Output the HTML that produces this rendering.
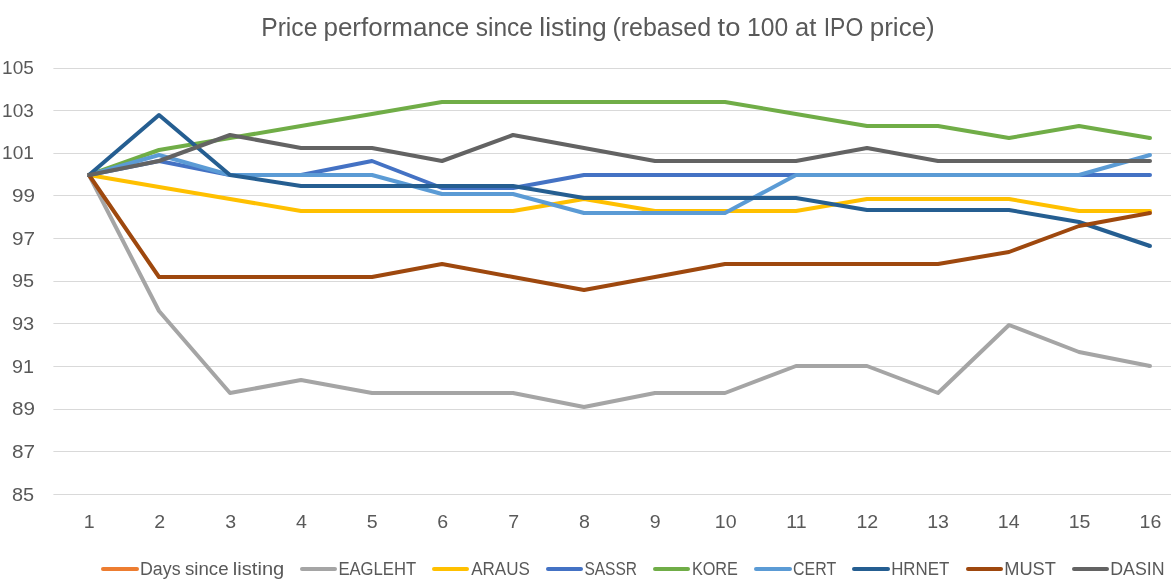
<!DOCTYPE html>
<html><head><meta charset="utf-8"><title>Price performance since listing</title>
<style>
html,body{margin:0;padding:0;background:#fff;}
body{width:1171px;height:588px;overflow:hidden;font-family:"Liberation Sans",sans-serif;}
svg{display:block;will-change:transform;}
text{font-family:"Liberation Sans",sans-serif;fill:#595959;}
</style></head><body>
<svg width="1171" height="588" viewBox="0 0 1171 588">
<rect x="0" y="0" width="1171" height="588" fill="#ffffff"/>
<g fill="#D9D9D9">
<rect x="53.4" y="68" width="1122.6" height="1"/>
<rect x="53.4" y="110" width="1122.6" height="1"/>
<rect x="53.4" y="153" width="1122.6" height="1"/>
<rect x="53.4" y="195" width="1122.6" height="1"/>
<rect x="53.4" y="238" width="1122.6" height="1"/>
<rect x="53.4" y="281" width="1122.6" height="1"/>
<rect x="53.4" y="323" width="1122.6" height="1"/>
<rect x="53.4" y="366" width="1122.6" height="1"/>
<rect x="53.4" y="409" width="1122.6" height="1"/>
<rect x="53.4" y="451" width="1122.6" height="1"/>
<rect x="53.4" y="494" width="1122.6" height="1"/>
</g>
<g font-size="25.4">
<text x="261.19" y="35.8" textLength="56.19" lengthAdjust="spacingAndGlyphs">Price</text>
<text x="323.44" y="35.8" textLength="145.86" lengthAdjust="spacingAndGlyphs">performance</text>
<text x="475.78" y="35.8" textLength="57.24" lengthAdjust="spacingAndGlyphs">since</text>
<text x="539.28" y="35.8" textLength="67.56" lengthAdjust="spacingAndGlyphs">listing</text>
<text x="612.40" y="35.8" textLength="98.67" lengthAdjust="spacingAndGlyphs">(rebased</text>
<text x="717.60" y="35.8" textLength="22.85" lengthAdjust="spacingAndGlyphs">to</text>
<text x="746.98" y="35.8" textLength="41.19" lengthAdjust="spacingAndGlyphs">100</text>
<text x="794.97" y="35.8" textLength="21.32" lengthAdjust="spacingAndGlyphs">at</text>
<text x="823.76" y="35.8" textLength="39.47" lengthAdjust="spacingAndGlyphs">IPO</text>
<text x="869.74" y="35.8" textLength="65.03" lengthAdjust="spacingAndGlyphs">price)</text>
</g>
<g font-size="19.0">
<text x="2.07" y="74" textLength="31.74" lengthAdjust="spacingAndGlyphs">105</text>
<text x="2.07" y="117" textLength="31.74" lengthAdjust="spacingAndGlyphs">103</text>
<text x="2.06" y="159" textLength="31.88" lengthAdjust="spacingAndGlyphs">101</text>
<text x="11.91" y="202" textLength="22.99" lengthAdjust="spacingAndGlyphs">99</text>
<text x="11.90" y="245" textLength="23.14" lengthAdjust="spacingAndGlyphs">97</text>
<text x="11.94" y="287" textLength="22.16" lengthAdjust="spacingAndGlyphs">95</text>
<text x="11.94" y="330" textLength="22.30" lengthAdjust="spacingAndGlyphs">93</text>
<text x="11.95" y="373" textLength="21.98" lengthAdjust="spacingAndGlyphs">91</text>
<text x="11.91" y="415" textLength="22.99" lengthAdjust="spacingAndGlyphs">89</text>
<text x="11.90" y="458" textLength="23.14" lengthAdjust="spacingAndGlyphs">87</text>
<text x="11.94" y="501" textLength="22.16" lengthAdjust="spacingAndGlyphs">85</text>
<text x="83.87" y="528.0" textLength="10.90" lengthAdjust="spacingAndGlyphs">1</text>
<text x="154.31" y="528.0" textLength="10.90" lengthAdjust="spacingAndGlyphs">2</text>
<text x="225.15" y="528.0" textLength="10.90" lengthAdjust="spacingAndGlyphs">3</text>
<text x="296.00" y="528.0" textLength="10.90" lengthAdjust="spacingAndGlyphs">4</text>
<text x="366.71" y="528.0" textLength="10.90" lengthAdjust="spacingAndGlyphs">5</text>
<text x="437.36" y="528.0" textLength="10.90" lengthAdjust="spacingAndGlyphs">6</text>
<text x="508.21" y="528.0" textLength="10.90" lengthAdjust="spacingAndGlyphs">7</text>
<text x="578.99" y="528.0" textLength="10.90" lengthAdjust="spacingAndGlyphs">8</text>
<text x="649.83" y="528.0" textLength="10.90" lengthAdjust="spacingAndGlyphs">9</text>
<text x="714.75" y="528.0" textLength="21.77" lengthAdjust="spacingAndGlyphs">10</text>
<text x="786.37" y="528.0" textLength="20.33" lengthAdjust="spacingAndGlyphs">11</text>
<text x="856.44" y="528.0" textLength="21.77" lengthAdjust="spacingAndGlyphs">12</text>
<text x="927.16" y="528.0" textLength="21.77" lengthAdjust="spacingAndGlyphs">13</text>
<text x="997.75" y="528.0" textLength="21.77" lengthAdjust="spacingAndGlyphs">14</text>
<text x="1068.65" y="528.0" textLength="21.77" lengthAdjust="spacingAndGlyphs">15</text>
<text x="1139.50" y="528.0" textLength="21.77" lengthAdjust="spacingAndGlyphs">16</text>
</g>
<g fill="none" stroke-width="4.0" stroke-linecap="butt" stroke-linejoin="round">
<polyline stroke="#A5A5A5" points="89,175 159,311 230,393 301,380 372,393 442,393 513,393 584,407 655,393 725,393 796,366 867,366 938,393 1009,325 1079,352 1150,366"/>
<circle cx="1150" cy="366" r="2.00" fill="#A5A5A5" stroke="none"/>
<polyline stroke="#FFC000" points="89,175 159,187 230,199 301,211 372,211 442,211 513,211 584,199 655,211 725,211 796,211 867,199 938,199 1009,199 1079,211 1150,211"/>
<circle cx="1150" cy="211" r="2.00" fill="#FFC000" stroke="none"/>
<polyline stroke="#4472C4" points="89,175 159,161 230,175 301,175 372,161 442,188 513,188 584,175 655,175 725,175 796,175 867,175 938,175 1009,175 1079,175 1150,175"/>
<circle cx="1150" cy="175" r="2.00" fill="#4472C4" stroke="none"/>
<polyline stroke="#70AD47" points="89,175 159,150 230,138 301,126 372,114 442,102 513,102 584,102 655,102 725,102 796,114 867,126 938,126 1009,138 1079,126 1150,138"/>
<circle cx="1150" cy="138" r="2.00" fill="#70AD47" stroke="none"/>
<polyline stroke="#5B9BD5" points="89,175 159,155 230,175 301,175 372,175 442,194 513,194 584,213 655,213 725,213 796,175 867,175 938,175 1009,175 1079,175 1150,155"/>
<circle cx="1150" cy="155" r="2.00" fill="#5B9BD5" stroke="none"/>
<polyline stroke="#255E91" points="89,175 159,115 230,175 301,186 372,186 442,186 513,186 584,198 655,198 725,198 796,198 867,210 938,210 1009,210 1079,222 1150,246"/>
<circle cx="1150" cy="246" r="2.00" fill="#255E91" stroke="none"/>
<polyline stroke="#9E480E" points="89,175 159,277 230,277 301,277 372,277 442,264 513,277 584,290 655,277 725,264 796,264 867,264 938,264 1009,252 1079,226 1150,213"/>
<circle cx="1150" cy="213" r="2.00" fill="#9E480E" stroke="none"/>
<polyline stroke="#636363" points="89,175 159,161 230,135 301,148 372,148 442,161 513,135 584,148 655,161 725,161 796,161 867,148 938,161 1009,161 1079,161 1150,161"/>
<circle cx="1150" cy="161" r="2.00" fill="#636363" stroke="none"/>
</g>
<rect x="87.1" y="173.00" width="2.4" height="4.0" fill="#636363"/>
<g stroke-width="4.0" stroke-linecap="round">
<line x1="103.00" x2="137.00" y1="569" y2="569" stroke="#ED7D31"/>
<line x1="302.00" x2="335.00" y1="569" y2="569" stroke="#A5A5A5"/>
<line x1="434.00" x2="467.00" y1="569" y2="569" stroke="#FFC000"/>
<line x1="548.00" x2="581.00" y1="569" y2="569" stroke="#4472C4"/>
<line x1="655.00" x2="688.00" y1="569" y2="569" stroke="#70AD47"/>
<line x1="756.00" x2="790.00" y1="569" y2="569" stroke="#5B9BD5"/>
<line x1="854.00" x2="888.00" y1="569" y2="569" stroke="#255E91"/>
<line x1="968.00" x2="1001.00" y1="569" y2="569" stroke="#9E480E"/>
<line x1="1074.00" x2="1107.00" y1="569" y2="569" stroke="#636363"/>
</g>
<g font-size="18.8">
<text x="140.04" y="574.9" textLength="40.50" lengthAdjust="spacingAndGlyphs">Days</text>
<text x="185.00" y="574.9" textLength="43.55" lengthAdjust="spacingAndGlyphs">since</text>
<text x="232.86" y="574.9" textLength="51.41" lengthAdjust="spacingAndGlyphs">listing</text>
<text x="338.42" y="574.9" textLength="77.70" lengthAdjust="spacingAndGlyphs">EAGLEHT</text>
<text x="471.19" y="574.9" textLength="58.63" lengthAdjust="spacingAndGlyphs">ARAUS</text>
<text x="584.38" y="574.9" textLength="52.69" lengthAdjust="spacingAndGlyphs">SASSR</text>
<text x="691.90" y="574.9" textLength="46.04" lengthAdjust="spacingAndGlyphs">KORE</text>
<text x="793.05" y="574.9" textLength="43.11" lengthAdjust="spacingAndGlyphs">CERT</text>
<text x="891.15" y="574.9" textLength="58.05" lengthAdjust="spacingAndGlyphs">HRNET</text>
<text x="1004.24" y="574.9" textLength="51.71" lengthAdjust="spacingAndGlyphs">MUST</text>
<text x="1110.18" y="574.9" textLength="54.37" lengthAdjust="spacingAndGlyphs">DASIN</text>
</g>
</svg>
</body></html>
